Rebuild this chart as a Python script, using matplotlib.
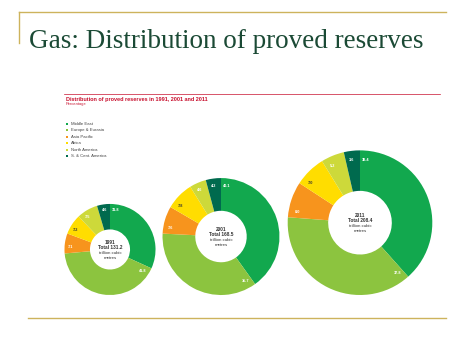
import matplotlib
matplotlib.use("Agg")
from matplotlib import pyplot as plt
import numpy as np

# data
regions = ["Middle East", "Europe & Eurasia", "Asia Pacific", "Africa",
           "North America", "S. & Cent. America"]
years = ["1991", "2001", "2011"]
totals = [131.2, 168.5, 208.4]
share_1991 = [31.8, 41.8, 7.1, 7.2, 7.5, 4.6]
share_2001 = [40.1, 35.7, 7.6, 7.8, 4.6, 4.2]
share_2011 = [38.4, 37.8, 8.0, 7.0, 5.2, 3.6]
shares = [share_1991, share_2001, share_2011]

colors = ["#12a84e", "#8cc43f", "#f7941d", "#ffdd00", "#cdd93a", "#006a4e"]
label_colors = ["white", "white", "white", "#333333", "white", "white"]

W, H = 474, 355
fig = plt.figure(figsize=(4.74, 3.55), dpi=100)
fig.patch.set_facecolor("white")
ax = fig.add_axes([0, 0, 1, 1])

gold = "#cdb35c"
# slide decoration
ax.plot([19, 446], [H - 12, H - 12], color=gold, lw=1.0)
ax.plot([19, 19], [H - 12, H - 43], color=gold, lw=1.0)
ax.plot([28, 446], [H - 318, H - 318], color=gold, lw=1.0)
ax.text(29, H - 41, "Gas: Distribution of proved reserves", family="Liberation Serif",
        fontsize=19.5, color="#1b4a35", va="center", ha="left")

# inner chart heading
red = "#c8102e"
ax.plot([64, 440], [H - 93.5, H - 93.5], color=red, lw=0.5)
ax.text(66, H - 99.3, "Distribution of proved reserves in 1991, 2001 and 2011",
        family="Liberation Sans", fontsize=4.0, weight="bold", color=red, va="center")
ax.text(66, H - 104.3, "Percentage", family="Liberation Sans", fontsize=2.9,
        color=red, va="center")

# legend
for i, (name, c) in enumerate(zip(regions, colors)):
    y = H - (124 + i * 6.4)
    ax.scatter([67.5], [y], marker="s", s=4.5, color=c, linewidths=0)
    ax.text(71, y, name, family="Liberation Sans", fontsize=3.1, color="#444444", va="center")

# donuts: radius scales with total
centers_x = [110, 221, 360]
bottom = 295
scale = 0.347
for cx, yr, tot, vals in zip(centers_x, years, totals, shares):
    r = tot * scale
    cy = H - (bottom - r)
    ax.pie(vals, colors=colors, startangle=90, counterclock=False,
           center=(cx, cy), radius=r, wedgeprops=dict(width=r * 0.56, linewidth=0),
           frame=True)
    start = 90.0
    for v, lc in zip(vals, label_colors):
        off = np.degrees(6.0 / (0.86 * r))
        a = np.radians(start - off)
        ax.text(cx + 0.87 * r * np.cos(a), cy + 0.87 * r * np.sin(a), f"{v:.1f}",
                family="Liberation Sans", fontsize=2.8, weight="bold", color=lc,
                ha="center", va="center")
        start -= v / sum(vals) * 360
    ax.text(cx, cy + 7, yr, family="Liberation Sans", fontsize=3.4, weight="bold",
            color="#333333", ha="center", va="center")
    ax.text(cx, cy + 2, f"Total {tot:.1f}", family="Liberation Sans", fontsize=3.4,
            weight="bold", color="#333333", ha="center", va="center")
    ax.text(cx, cy - 3.2, "trillion cubic", family="Liberation Sans", fontsize=3.2,
            color="#333333", ha="center", va="center")
    ax.text(cx, cy - 8.2, "metres", family="Liberation Sans", fontsize=3.2,
            color="#333333", ha="center", va="center")

ax.set_xlim(0, W)
ax.set_ylim(0, H)
ax.set_aspect("auto")
ax.axis("off")

fig.savefig("out.png", dpi=100, facecolor="white")
